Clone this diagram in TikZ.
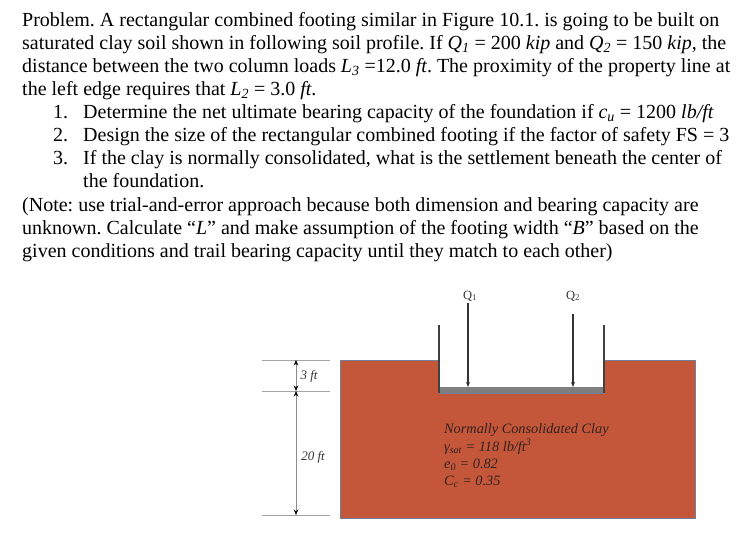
\documentclass[tikz,border=0pt]{standalone}
\usepackage{fontspec}
\setmainfont{Liberation Serif}
\usetikzlibrary{arrows.meta}
\definecolor{claycolor}{HTML}{C4573A}
\definecolor{edgecolor}{HTML}{6F7F9C}
\definecolor{footcolor}{HTML}{7F7F7F}
\definecolor{wallcolor}{HTML}{404040}
\definecolor{dimcolor}{HTML}{A6A6A6}
\definecolor{labcolor}{HTML}{33211F}
\newcommand{\isub}[2]{\textit{#1}\textsubscript{\textit{#2}}}
\frenchspacing
\tikzset{
  textline/.style={anchor=base west,inner sep=0pt,font=\fontsize{20}{24}\selectfont},
  clayline/.style={anchor=base west,inner sep=0pt,text=labcolor,font=\fontsize{14.3}{17}\selectfont\itshape},
  dimlabel/.style={inner sep=0pt,text=black!80,font=\fontsize{13}{15}\selectfont\itshape},
  loadlabel/.style={inner sep=0pt,text=black!80,font=\fontsize{12.5}{15}\selectfont},
  loadarrow/.style={draw=black!80,line width=1.1pt,-{Stealth[length=5pt,width=4pt]}},
  dimline/.style={draw=dimcolor,line width=.7pt},
  dimarrow/.style={draw=black!45,line width=.6pt,{Stealth[length=5.5pt,width=4.5pt,black]}-{Stealth[length=5.5pt,width=4.5pt,black]}},
  wall/.style={draw=wallcolor,line width=2pt}
}
\begin{document}
\begin{tikzpicture}[x=1pt,y=-1pt]
\useasboundingbox (0,0) rectangle (747,547);
% problem text
\node[textline] (line1) at (22,26) {Problem. A rectangular combined footing similar in Figure 10.1. is going to be built on};
\node[textline] (line2) at (22,49) {saturated clay soil shown in following soil profile. If \isub{Q}{1} = 200 \textit{kip} and \isub{Q}{2} = 150 \textit{kip}, the};
\node[textline] (line3) at (22,72) {distance between the two column loads \isub{L}{3} =12.0 \textit{ft}. The proximity of the property line at};
\node[textline] (line4) at (22,95) {the left edge requires that \isub{L}{2} = 3.0 \textit{ft}.};
\node[textline] (num1) at (53,118) {1.};
\node[textline] (item1) at (83,118) {Determine the net ultimate bearing capacity of the foundation if \isub{c}{u} = 1200 \textit{lb/ft}};
\node[textline] (num2) at (53,141) {2.};
\node[textline] (item2) at (83,141) {Design the size of the rectangular combined footing if the factor of safety FS = 3};
\node[textline] (num3) at (53,164) {3.};
\node[textline] (item3) at (83,164) {If the clay is normally consolidated, what is the settlement beneath the center of};
\node[textline] (item3b) at (83,187) {the foundation.};
\node[textline] (note1) at (22,211) {(Note: use trial-and-error approach because both dimension and bearing capacity are};
\node[textline] (note2) at (22,234) {unknown. Calculate “\textit{L}” and make assumption of the footing width “\textit{B}” based on the};
\node[textline] (note3) at (22,257) {given conditions and trail bearing capacity until they match to each other)};
% soil
\draw[edgecolor,fill=claycolor,line width=.6pt] (340,360) -- (439,360) -- (439,393) -- (604,393) -- (604,360) -- (695,360) -- (695,518) -- (340,518) -- cycle;
% footing
\fill[footcolor] (439,387) rectangle (604,393);
\draw[wall] (439,325) coordinate (w1) -- (439,393) coordinate (w1b);
\draw[wall] (604,325) coordinate (w2) -- (604,393) coordinate (w2b);
% loads
\node[loadlabel] (q1) at (470,296) {Q\textsubscript{1}};
\node[loadlabel] (q2) at (573,296) {Q\textsubscript{2}};
\coordinate (q1end) at (468,387);
\coordinate (q2end) at (573,387);
\coordinate (q1top) at (468,303);
\coordinate (q2top) at (573,314);
\draw[loadarrow] (q1top) -- (q1end);
\draw[loadarrow] (q2top) -- (q2end);
% dimensions
\draw[dimline] (262,360) coordinate (d1) -- (330,360);
\draw[dimline] (262,391) coordinate (d2) -- (330,391);
\draw[dimline] (262,515) coordinate (d3) -- (330,515);
\draw[dimarrow] (296,360) -- (296,391);
\draw[dimarrow] (296,391) -- (296,515);
\node[dimlabel] (h1) at (309,376) {3 ft};
\node[dimlabel] (h2) at (313,457) {20 ft};
% clay data
\node[clayline] (clay1) at (444,433) {Normally Consolidated Clay};
\node[clayline] (clay2) at (444,451) {\textit{γ}\textsubscript{\textit{sat}} = 118 lb/ft\textsuperscript{3}};
\node[clayline] (clay3) at (444,468) {e\textsubscript{0} = 0.82};
\node[clayline] (clay4) at (444,485) {C\textsubscript{c} = 0.35};
\end{tikzpicture}
\end{document}
